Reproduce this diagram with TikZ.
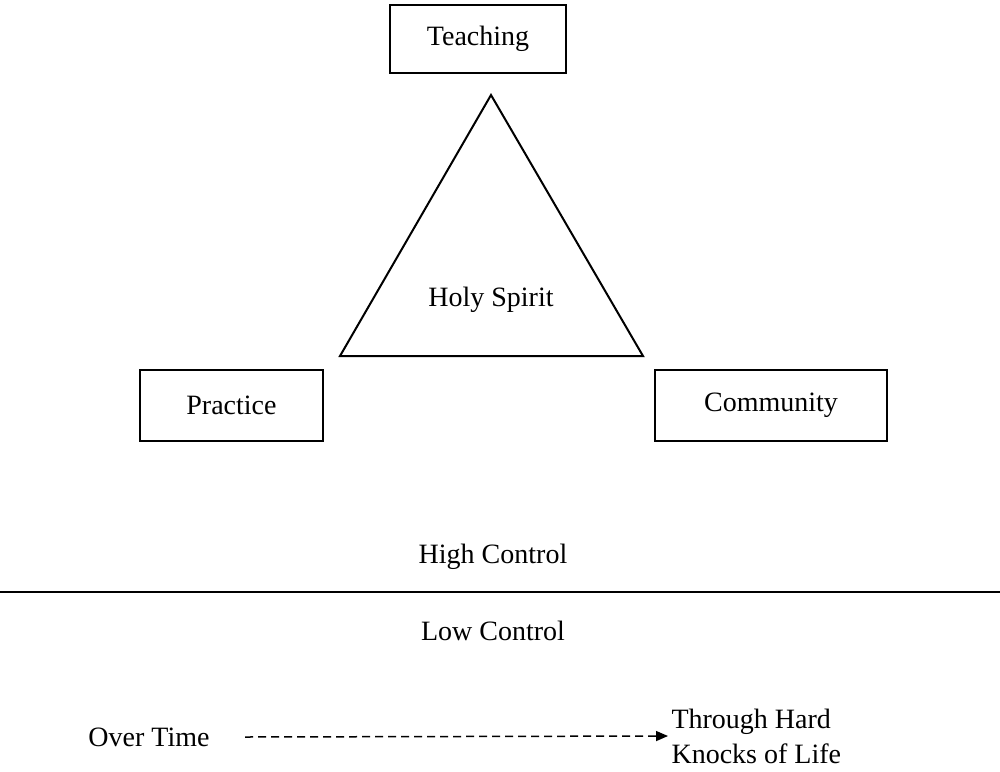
\documentclass[tikz,border=0pt]{standalone}
\usepackage{fontspec}
\setmainfont{Liberation Serif}
\usetikzlibrary{arrows.meta}
\begin{document}
\begin{tikzpicture}[x=1pt,y=-1pt,
  box/.style={draw,line width=2pt,inner sep=0pt},
  lbl/.style={font=\fontsize{28}{34}\selectfont}]
\useasboundingbox (0,0) rectangle (1000,771);
\node[box,minimum width=176,minimum height=68] (teach) at (478,39) {};
\node[lbl] at (teach.center) {Teaching};
\node[box,minimum width=183,minimum height=71] (prac) at (231.5,405.5) {};
\node[lbl] at (prac.center) {Practice};
\node[box,minimum width=232,minimum height=71] (comm) at (771,405.5) {};
\node[lbl] at (comm.center) {Community};
\coordinate (a) at (491,95);
\coordinate (b) at (340,356);
\coordinate (c) at (643,356);
\draw[line width=2pt,line join=miter] (a) -- (b) -- (c) -- cycle;
\node[lbl] (hs) at (491,300) {Holy Spirit};
\node[lbl] (hc) at (493,557) {High Control};
\coordinate (l1) at (0,592);
\coordinate (l2) at (1000,592);
\draw[line width=1.5pt] (l1) -- (l2);
\node[lbl] (lc) at (493,631) {Low Control};
\node[lbl] (ot) at (149,737) {Over Time};
\node[lbl,anchor=west,align=left,font=\fontsize{28}{35}\selectfont] (th) at (668,736) {Through Hard\\Knocks of Life};
\draw[line width=1.5pt,dashed,dash pattern=on 8pt off 5pt,-{Triangle[length=12pt,width=10pt]}] (245,737) -- (th.west);
\end{tikzpicture}
\end{document}
